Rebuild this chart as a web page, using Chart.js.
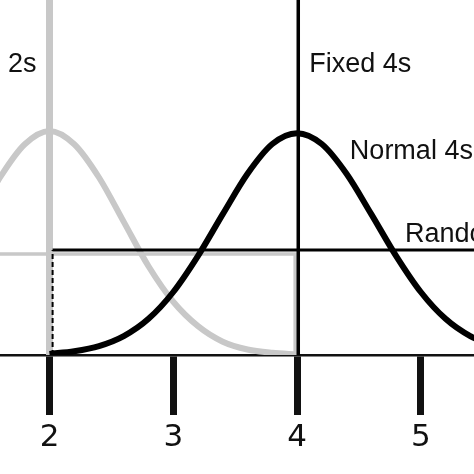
<!DOCTYPE html>
<html>
<head>
<meta charset="utf-8">
<script src="https://cdn.jsdelivr.net/npm/chart.js@4/dist/chart.umd.min.js"></script>
<style>
html,body{margin:0;padding:0;background:#fff;}
#wrap{width:474px;height:474px;}
</style>
</head>
<body>
<div id="wrap"><canvas id="c" width="474" height="474"></canvas></div>
<script>
// ---- data (x in seconds, y in relative density units) ----
const tickValues = [2, 3, 4, 5];

const normal4X = [2.0, 2.2, 2.4, 2.6, 2.8, 3.0, 3.2, 3.4, 3.6, 3.8, 4.0, 4.2, 4.4, 4.6, 4.8, 5.0, 5.2, 5.4, 5.6];
const normal4Y = [0.005, 0.017, 0.040, 0.085, 0.163, 0.284, 0.447, 0.635, 0.817, 0.951, 1.00, 0.951, 0.817, 0.635, 0.447, 0.284, 0.163, 0.085, 0.040];

const normal2X = [1.4, 1.6, 1.8, 2.0, 2.2, 2.4, 2.6, 2.8, 3.0, 3.2, 3.4, 3.6, 3.8, 4.0];
const normal2Y = [0.60, 0.80, 0.95, 1.01, 0.95, 0.80, 0.60, 0.40, 0.24, 0.13, 0.06, 0.025, 0.01, 0.003];

const randomBlackX = [2.025, 5.6];
const randomBlackLevel = 0.473;
const randomGrayX = [1.4, 3.985];
const randomGrayLevel = 0.455;

const fixed2X = 2.0;
const fixed4X = 4.01;

const labelTexts = ["Fixed 2s", "Fixed 4s", "Normal 4s", "Random"];
const labelX = [2.0, 4.01, 4.427, 4.872];
const labelY = [1.275, 1.275, 0.885, 0.51];
const labelAlign = ["right", "left", "left", "left"];

const xMin = 1.6, xMax = 5.43, yMin = 0, yMax = 1.6;

// ---- build datasets ----
const GRAY = 'rgb(200,200,200)';
const BLACK = '#000';
const pts = (xs, ys) => xs.map((x, i) => ({x: x, y: ys[i]}));

const datasets = [
  { // black normal (top-most)
    data: pts(normal4X, normal4Y), borderColor: BLACK, borderWidth: 6,
    cubicInterpolationMode: 'monotone', pointRadius: 0, showLine: true
  },
  { // black uniform level
    data: [{x: randomBlackX[0], y: randomBlackLevel}, {x: randomBlackX[1], y: randomBlackLevel}],
    borderColor: BLACK, borderWidth: 3, pointRadius: 0, showLine: true
  },
  { // dashed drop of black uniform
    data: [{x: randomBlackX[0], y: 0}, {x: randomBlackX[0], y: randomBlackLevel}],
    borderColor: BLACK, borderWidth: 2, borderDash: [5, 3], pointRadius: 0, showLine: true
  },
  { // fixed 4s
    data: [{x: fixed4X, y: yMin}, {x: fixed4X, y: yMax}],
    borderColor: BLACK, borderWidth: 3.5, pointRadius: 0, showLine: true
  },
  { // gray normal
    data: pts(normal2X, normal2Y), borderColor: GRAY, borderWidth: 6,
    cubicInterpolationMode: 'monotone', pointRadius: 0, showLine: true
  },
  { // gray uniform
    data: [{x: randomGrayX[0], y: randomGrayLevel}, {x: randomGrayX[1], y: randomGrayLevel}, {x: randomGrayX[1], y: 0}],
    borderColor: GRAY, borderWidth: 3.5, pointRadius: 0, showLine: true
  },
  { // fixed 2s
    data: [{x: fixed2X, y: yMin}, {x: fixed2X, y: yMax}],
    borderColor: GRAY, borderWidth: 7, pointRadius: 0, showLine: true
  }
];

const textPlugin = {
  id: 'textLabels',
  afterDatasetsDraw(chart) {
    const ctx = chart.ctx, xs = chart.scales.x, ys = chart.scales.y;
    ctx.save();
    ctx.font = '27px "Liberation Sans", Arial, sans-serif';
    ctx.fillStyle = '#111';
    ctx.textBaseline = 'alphabetic';
    labelTexts.forEach((t, i) => {
      let px = xs.getPixelForValue(labelX[i]);
      if (i === 0) px -= 13; else if (i === 1) px += 11;
      ctx.textAlign = labelAlign[i];
      ctx.fillText(t, px, ys.getPixelForValue(labelY[i]));
    });
    ctx.restore();
  }
};

new Chart(document.getElementById('c'), {
  type: 'scatter',
  data: { datasets: datasets },
  options: {
    responsive: false,
    animation: false,
    devicePixelRatio: 1,
    layout: { padding: 0 },
    plugins: { legend: { display: false }, tooltip: { enabled: false } },
    scales: {
      x: {
        type: 'linear', position: 'bottom', min: xMin, max: xMax,
        afterBuildTicks(scale) { scale.ticks = tickValues.map(v => ({value: v})); },
        afterFit(scale) { scale.height = 119; },
        grid: { display: true, drawOnChartArea: false, drawTicks: true, tickLength: 60, tickWidth: 7, tickColor: '#111' },
        border: { display: true, color: '#111', width: 2.5 },
        ticks: {
          padding: 4, color: '#111', maxRotation: 0,
          font: { family: '"DejaVu Sans", sans-serif', size: 31 },
          callback: v => String(v)
        }
      },
      y: { display: false, min: yMin, max: yMax }
    }
  },
  plugins: [textPlugin]
});
</script>
</body>
</html>
